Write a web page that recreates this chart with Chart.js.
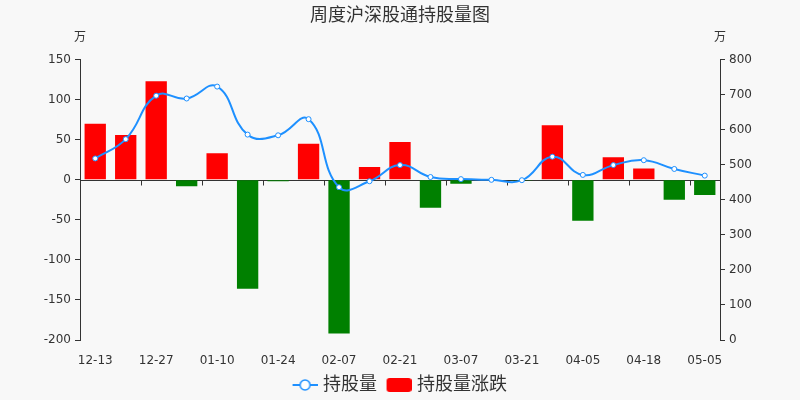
<!DOCTYPE html>
<html>
<head>
<meta charset="utf-8">
<script src="https://cdn.jsdelivr.net/npm/chart.js@4.4.1/dist/chart.umd.min.js"></script>
<style>
  html, body { margin: 0; padding: 0; background: #f8f8f8; }
  #wrap { width: 800px; height: 400px; }
</style>
</head>
<body>
<div id="wrap"><canvas id="bar-chart"></canvas></div>
<script>
// weekly dates
var categories = ['12-13','12-20','12-27','01-03','01-10','01-17','01-24','01-31','02-07','02-14','02-21',
                  '02-28','03-07','03-14','03-21','03-28','04-05','04-11','04-18','04-25','05-05'];
// 持股量 (万)
var holdings = [518, 573, 697, 689, 723, 586, 584, 630, 436, 453, 499,
                465, 459, 457, 456, 523, 471, 499, 513, 488, 469];
// 持股量涨跌 (万)
var changes = [70, 56, 123, -8, 33, -136, -2, 45, -192, 16, 47,
               -35, -5, 0, -1, 68, -51, 28, 14, -25, -19];
var leftTicks = [-200, 150, 50];   // min, max, step
var rightTicks = [0, 800, 100];

var FONT = "'DejaVu Sans', 'Noto Sans CJK SC', sans-serif";
var TXT = '#333';

// legend icons: 28px canvas centred on a 22px box, icon sits at box x 0..25
function lineIcon() {
  var c = document.createElement('canvas');
  c.width = 28; c.height = 14;
  var g = c.getContext('2d');
  g.strokeStyle = '#1e90ff'; g.lineWidth = 2;
  g.beginPath(); g.moveTo(3, 7); g.lineTo(28, 7); g.stroke();
  g.fillStyle = '#fff'; g.lineWidth = 1.5;
  g.beginPath(); g.arc(15.5, 7, 5, 0, Math.PI * 2); g.fill(); g.stroke();
  return c;
}
function barIcon() {
  var c = document.createElement('canvas');
  c.width = 28; c.height = 14;
  var g = c.getContext('2d');
  g.fillStyle = '#ff0000';
  g.beginPath(); g.roundRect(3, 0, 25, 14, 3); g.fill();
  return c;
}
var icons = [lineIcon(), barIcon()];

var decor = {
  id: 'decor',
  beforeDraw: function (chart) {
    var ctx = chart.ctx;
    ctx.save();
    ctx.fillStyle = '#f8f8f8';
    ctx.fillRect(0, 0, chart.width, chart.height);
    ctx.restore();
  },
  beforeDatasetsDraw: function (chart) {
    var ctx = chart.ctx, xs = chart.scales.x, ys = chart.scales.y, a = chart.chartArea;
    var y0 = Math.round(ys.getPixelForValue(0)) + 0.5;
    ctx.save();
    ctx.strokeStyle = TXT; ctx.lineWidth = 1;
    ctx.beginPath();
    ctx.moveTo(a.left, y0); ctx.lineTo(a.right, y0);
    for (var i = 2; i < categories.length; i += 2) {
      var x = Math.round((xs.getPixelForValue(i - 1) + xs.getPixelForValue(i)) / 2) + 0.5;
      ctx.moveTo(x, y0); ctx.lineTo(x, y0 + 5);
    }
    ctx.stroke();
    // unit labels
    ctx.fillStyle = TXT;
    ctx.font = '12px ' + FONT;
    ctx.textAlign = 'center';
    ctx.textBaseline = 'middle';
    ctx.fillText('万', a.left, 38);
    ctx.fillText('万', a.right, 38);
    ctx.restore();
  }
};

new Chart(document.getElementById('bar-chart'), {
  type: 'bar',
  data: {
    labels: categories,
    datasets: [
      {
        type: 'line',
        label: '持股量',
        data: holdings,
        yAxisID: 'y1',
        borderColor: '#1e90ff',
        borderWidth: 2,
        tension: 0.45,
        pointRadius: 2.5,
        pointBorderWidth: 1,
        pointBackgroundColor: '#fff',
        pointBorderColor: '#1e90ff',
        order: 0
      },
      {
        label: '持股量涨跌',
        data: changes,
        yAxisID: 'y',
        backgroundColor: changes.map(v => v >= 0 ? '#ff0000' : '#008000'),
        barPercentage: 0.7,
        categoryPercentage: 1,
        order: 1
      }
    ]
  },
  options: {
    responsive: true,
    maintainAspectRatio: false,
    animation: false,
    layout: { padding: { left: 0, right: 0, top: 0, bottom: 0 } },
    plugins: {
      title: {
        display: true,
        text: '周度沪深股通持股量图',
        color: TXT,
        font: { family: FONT, size: 18, weight: 'normal' },
        padding: { top: 6, bottom: 32 }
      },
      legend: {
        position: 'bottom',
        maxHeight: 34,
        labels: {
          color: TXT,
          font: { family: FONT, size: 18 },
          usePointStyle: true,
          pointStyleWidth: 21,
          padding: 10,
          generateLabels: function (chart) {
            return chart.data.datasets.map(function (ds, i) {
              return { text: ds.label, pointStyle: icons[i], datasetIndex: i,
                       fontColor: TXT, lineWidth: 0, hidden: false };
            });
          }
        }
      },
      tooltip: { enabled: false }
    },
    scales: {
      x: {
        offset: true,
        grid: { display: false },
        border: { display: false },
        afterFit: function (s) { s.height = 26; },
        ticks: {
          autoSkip: false, maxRotation: 0, color: TXT, padding: 6,
          font: { family: FONT, size: 12 },
          callback: function (v, i) { return i % 2 === 0 ? categories[i] : ''; }
        }
      },
      y: {
        position: 'left',
        min: leftTicks[0], max: leftTicks[1],
        afterFit: function (s) { s.width = 80; },
        border: { display: true, color: TXT },
        grid: { drawOnChartArea: false, drawTicks: true, tickLength: 5, color: TXT },
        ticks: { stepSize: leftTicks[2], color: TXT, padding: 4, font: { family: FONT, size: 12 } }
      },
      y1: {
        position: 'right',
        min: rightTicks[0], max: rightTicks[1],
        afterFit: function (s) { s.width = 80; },
        border: { display: true, color: TXT },
        grid: { drawOnChartArea: false, drawTicks: true, tickLength: 5, color: TXT },
        ticks: { stepSize: rightTicks[2], color: TXT, padding: 4, font: { family: FONT, size: 12 } }
      }
    }
  },
  plugins: [decor]
});
</script>
</body>
</html>
